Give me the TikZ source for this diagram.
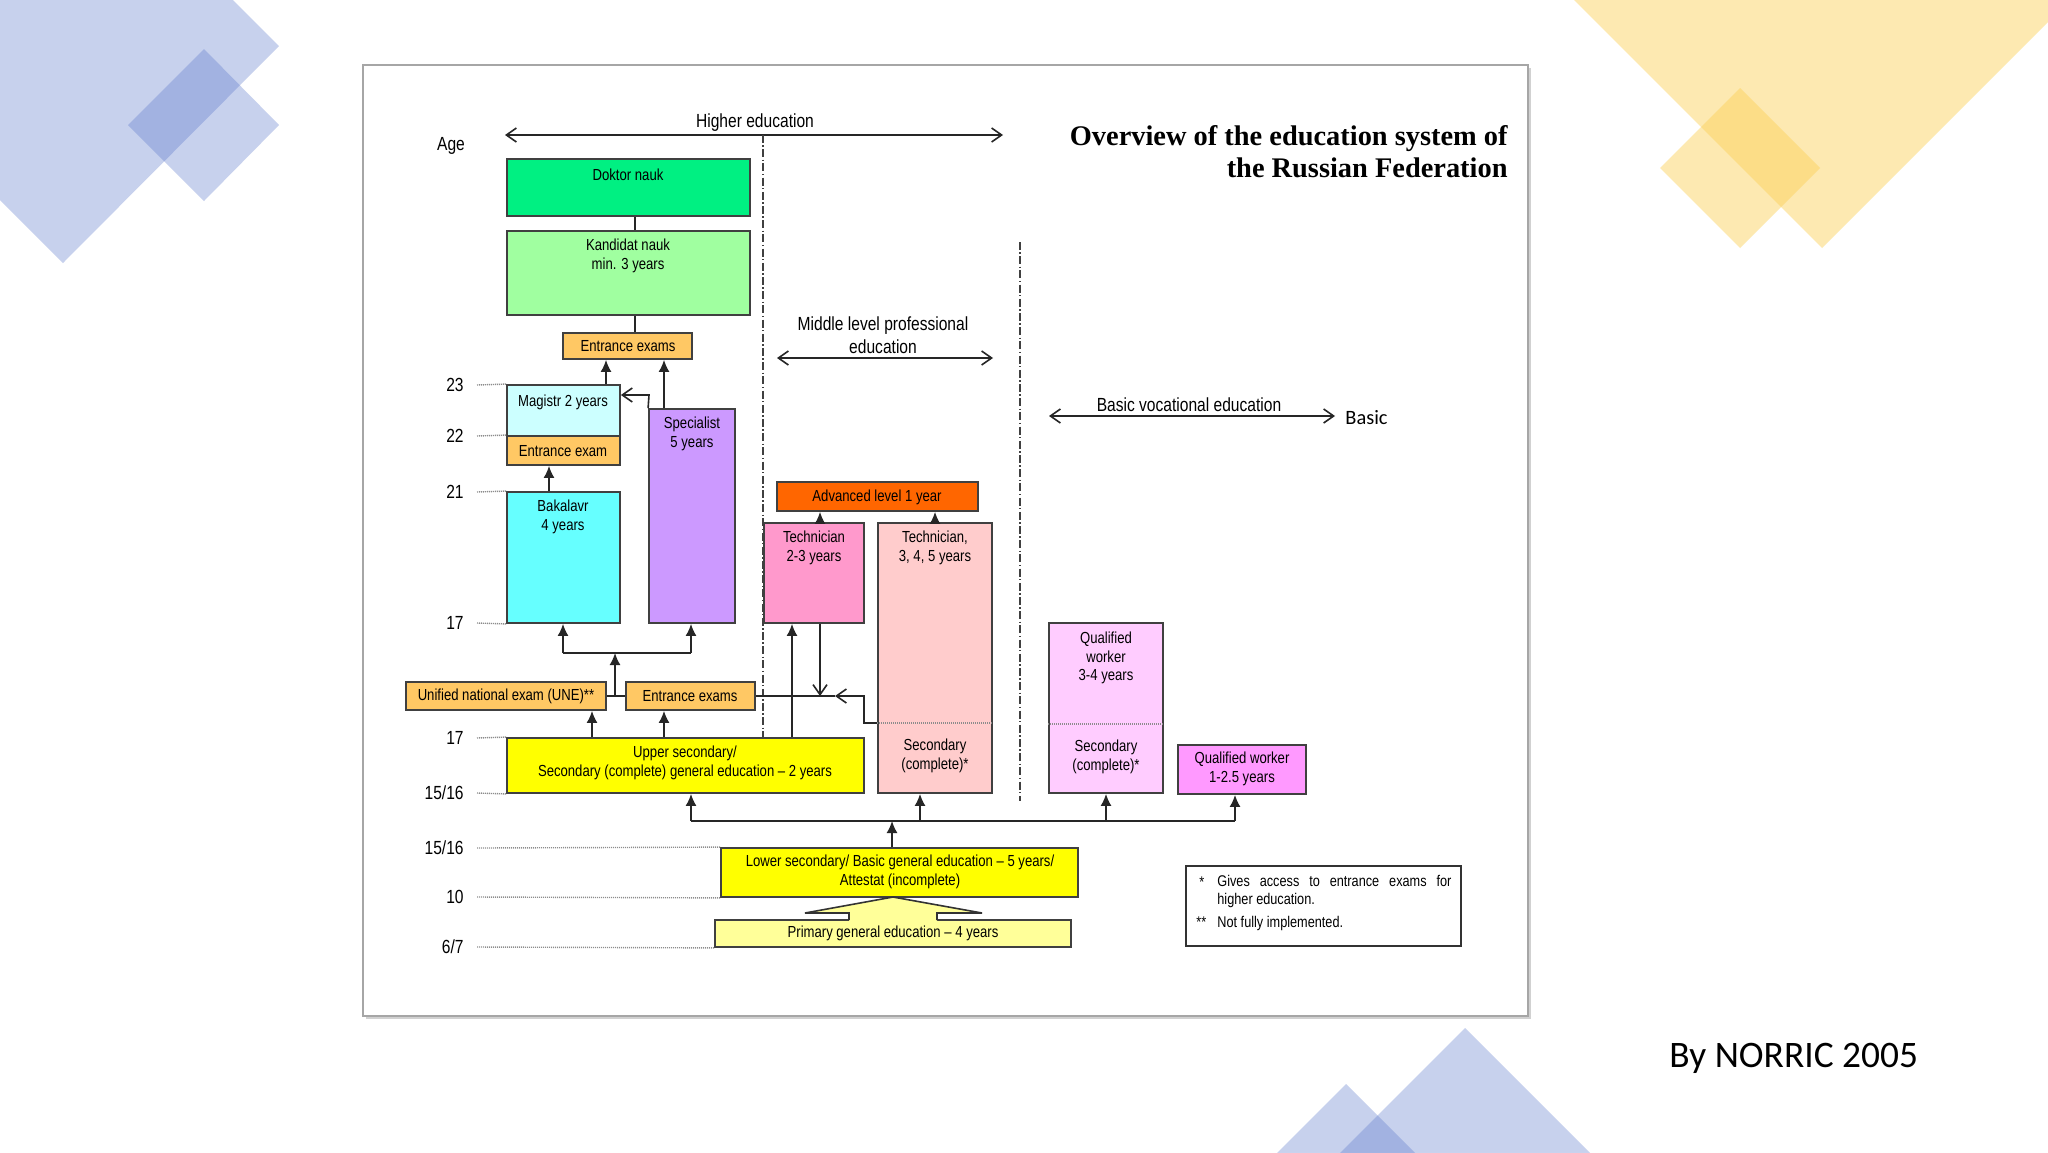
\documentclass[tikz,border=0pt]{standalone}
\usepackage{fontspec}
\setmainfont{Liberation Sans}
\newfontfamily\nar[FakeStretch=0.82,Ligatures=TeX]{Liberation Sans}
\newfontfamily\ttl{Liberation Serif}
\newfontfamily\calfont{Carlito}
\usetikzlibrary{arrows.meta,fit}
\definecolor{cDok}{RGB}{0,240,130}
\definecolor{cKand}{RGB}{160,255,160}
\definecolor{cExam}{RGB}{255,200,100}
\definecolor{cMag}{RGB}{204,255,255}
\definecolor{cBak}{RGB}{102,255,255}
\definecolor{cSpec}{RGB}{204,153,255}
\definecolor{cAdv}{RGB}{255,102,0}
\definecolor{cTa}{RGB}{255,153,204}
\definecolor{cTb}{RGB}{255,204,204}
\definecolor{cQa}{RGB}{255,204,255}
\definecolor{cQb}{RGB}{255,153,255}
\definecolor{cYel}{RGB}{255,255,0}
\definecolor{cPri}{RGB}{255,255,153}
\definecolor{decoBlue}{RGB}{87,117,203}
\definecolor{decoYel}{RGB}{251,208,84}
\begin{document}
\begin{tikzpicture}[x=0.5pt,y=-0.5pt,
  box/.style={draw=black!75, line width=0.9pt, inner sep=0pt, fill=#1},
  txt/.style={font=\nar\fontsize{8}{9.2}\selectfont, align=center, inner sep=0pt},
  head/.style={font=\nar\fontsize{9.5}{11.5}\selectfont, align=center, inner sep=0pt},
  agel/.style={font=\nar\fontsize{9.5}{11}\selectfont, anchor=east, inner sep=0pt},
  foot/.style={font=\nar\fontsize{7.75}{9}\selectfont, inner sep=0pt},
  conn/.style={line width=0.8pt, black!85},
  arr/.style={conn, -{Latex[length=6pt,width=5.5pt]}},
  oarr/.style={conn, -{Straight Barb[length=5pt,width=7pt]}},
  darr/.style={conn, {Straight Barb[length=5pt,width=7pt]}-{Straight Barb[length=5pt,width=7pt]}},
  tick/.style={black!45, line width=0.7pt, dash pattern=on 0.6pt off 0.4pt},
  dd/.style={black!75, line width=0.6pt, dash pattern=on 4pt off 1.2pt on 0.7pt off 1.2pt},
  deco/.style={fill=#1, fill opacity=0.33, draw=none}
]
\useasboundingbox (0,0) rectangle (2048,1152);
\fill[white] (0,0) rectangle (2048,1152);
% decorations
\begin{scope}
\clip (0,0) rectangle (2048,1152);
\fill[deco=decoBlue] (279,46) -- (63,263) -- (-237,-37) -- (-21,-254) -- cycle;
\fill[deco=decoBlue] (204,49) -- (279,125) -- (204,201) -- (128,125) -- cycle;
\fill[decoYel, fill opacity=0.45] (1822,248) -- (2222,-152) -- (1822,-552) -- (1422,-152) -- cycle;
\fill[decoYel, fill opacity=0.45] (1740,88) -- (1820,168) -- (1740,248) -- (1660,168) -- cycle;
\fill[deco=decoBlue] (1465,1028) -- (1625,1188) -- (1465,1348) -- (1305,1188) -- cycle;
\fill[deco=decoBlue] (1346,1084) -- (1446,1184) -- (1346,1284) -- (1246,1184) -- cycle;
\end{scope}
% panel
\fill[black!18] (366,68) rectangle (1531,1019);
\draw[fill=white, draw=black!35, line width=0.8pt] (363,65) rectangle (1528,1016);

% title
\node[font=\ttl\bfseries\fontsize{14.2}{16}\selectfont, align=right, anchor=east, inner sep=0pt] (title) at (1508,152) {Overview of the education system of\\the Russian Federation};

% headings
\node[head] (age) at (451,146) {Age};
\node[head] (hhigh) at (755,123) {Higher education};
\coordinate (hL) at (505,135); \coordinate (hR) at (1003,135);
\draw[darr] (hL) -- (hR);
\node[head] (hmid) at (883,335) {Middle level professional\\education};
\coordinate (mL) at (777,358); \coordinate (mR) at (993,358);
\draw[darr] (mL) -- (mR);
\node[head] (hbas) at (1189,405) {Basic vocational education};
\coordinate (bL) at (1049,416); \coordinate (bR) at (1335,416);
\draw[darr] (bL) -- (bR);
\node[font=\calfont\fontsize{10.2}{12}\selectfont, anchor=west, inner sep=0pt] (basic) at (1345,418) {Basic};

% dash-dot separators
\coordinate (d1t) at (763,135); \coordinate (d1b) at (763,738);
\draw[dd] (d1t) -- (d1b);
\coordinate (d2t) at (1020,242); \coordinate (d2b) at (1020,801);
\draw[dd] (d2t) -- (d2b);

% boxes
\node[box=cDok, fit={(507,159)(750,216)}] (dok) {};
\node[box=cKand, fit={(507,231)(750,315)}] (kand) {};
\node[box=cExam, fit={(563,333)(692,359)}] (ent1) {};
\node[box=cMag, fit={(507,385)(620,436)}] (mag) {};
\node[box=cExam, fit={(507,436)(620,465)}] (ex) {};
\node[box=cBak, fit={(507,492)(620,623)}] (bak) {};
\node[box=cSpec, fit={(649,409)(735,623)}] (spec) {};
\node[box=cAdv, fit={(777,482)(978,511)}] (adv) {};
\node[box=cTa, fit={(764,523)(864,623)}] (ta) {};
\node[box=cTb, fit={(878,523)(992,793)}] (tb) {};
\node[box=cQa, fit={(1049,623)(1163,793)}] (qa) {};
\node[box=cQb, fit={(1178,745)(1306,794)}] (qb) {};
\node[box=cExam, fit={(406,682)(606,710)}] (une) {};
\node[box=cExam, fit={(626,682)(755,710)}] (ent2) {};
\node[box=cYel, fit={(507,738)(864,793)}] (up) {};
\node[box=cYel, fit={(721,848)(1078,897)}] (low) {};
\node[box=cPri, fit={(715,920)(1071,947)}] (pri) {};
\node[draw=black!80, line width=0.8pt, fill=white, inner sep=0pt, fit={(1186,866)(1461,946)}] (note) {};

% dividers inside boxes
\draw[tick] (tb.west |- 0,723) -- (tb.east |- 0,723);
\draw[tick] (qa.west |- 0,724) -- (qa.east |- 0,724);

% box texts
\node[txt] (tdok) at (628,175) {Doktor nauk};
\node[txt] (tkand) at (628,256) {Kandidat nauk\\min. 3 years};
\node[txt] (tent1) at (628,346) {Entrance exams};
\node[txt] (tmag) at (563,402) {Magistr 2 years};
\node[txt] (tex) at (563,451) {Entrance exam};
\node[txt] (tbak) at (563,517) {Bakalavr\\4 years};
\node[txt] (tspec) at (692,434) {Specialist\\5 years};
\node[txt] (tadv) at (877,497) {Advanced level 1 year};
\node[txt] (tta) at (814,548) {Technician\\2-3 years};
\node[txt] (ttb) at (935,548) {Technician,\\3, 4, 5 years};
\node[txt] (ttbs) at (935,756) {Secondary\\(complete)*};
\node[txt] (tqa) at (1106,658) {Qualified\\worker\\3-4 years};
\node[txt] (tqas) at (1106,757) {Secondary\\(complete)*};
\node[txt] (tqb) at (1242,769) {Qualified worker\\1-2.5 years};
\node[txt] (tune) at (506,696) {Unified national exam (UNE)**};
\node[txt] (tent2) at (690,696) {Entrance exams};
\node[txt] (tup) at (685,763) {Upper secondary/\\Secondary (complete) general education – 2 years};
\node[txt] (tlow) at (900,872) {Lower secondary/ Basic general education – 5 years/\\Attestat (incomplete)};
\node[txt] (tpri) at (893,933) {Primary general education – 4 years};

% footnote
\node[foot, anchor=west] (fs1) at (1199,882) {*};
\node[foot, anchor=west, align=left] (ft1) at (1217,891) {\makebox[117pt][s]{Gives access to entrance exams for}\\higher education.};
\node[foot, anchor=west] (fs2) at (1196,922) {**};
\node[foot, anchor=west] (ft2) at (1217,923) {Not fully implemented.};

% age labels and ticks
\node[agel] (a23) at (464,385) {23};
\node[agel] (a22) at (464,436) {22};
\node[agel] (a21) at (464,492) {21};
\node[agel] (a17a) at (464,623) {17};
\node[agel] (a17b) at (464,738) {17};
\node[agel] (a15a) at (464,793) {15/16};
\node[agel] (a15b) at (464,848) {15/16};
\node[agel] (a10) at (464,897) {10};
\node[agel] (a6) at (464,947) {6/7};
\draw[tick] ([xshift=6.5pt]a23.east) -- (mag.north west);
\draw[tick] ([xshift=6.5pt]a22.east) -- (ex.north west);
\draw[tick] ([xshift=6.5pt]a21.east) -- (bak.north west);
\draw[tick] ([xshift=6.5pt]a17a.east) -- (bak.south west);
\draw[tick] ([xshift=6.5pt]a17b.east) -- (up.north west);
\draw[tick] ([xshift=6.5pt]a15a.east) -- (up.south west);
\draw[tick] ([xshift=6.5pt]a15b.east) -- (low.north west);
\draw[tick] ([xshift=6.5pt]a10.east) -- (low.south west);
\draw[tick] ([xshift=6.5pt]a6.east) -- (pri.south west);

% connectors: higher education
\draw[conn] (635,0 |- dok.south) -- (635,0 |- kand.north);
\draw[conn] (635,0 |- kand.south) -- (635,0 |- ent1.north);
\draw[arr] (606,0 |- mag.north) -- (606,0 |- ent1.south);
\draw[arr] (664,0 |- spec.north) -- (664,0 |- ent1.south);
\draw[oarr] (spec.north west) -- (649,395) -- (mag.east |- 0,395);
\draw[arr] (549,0 |- bak.north) -- (549,0 |- ex.south);
\draw[conn] (une.east) -- (ent2.west);
\coordinate (j1) at (615,653);
\coordinate (jl) at (563,653);
\coordinate (jr) at (691,653);
\draw[arr] (615,0 |- une.east) -- (j1);
\draw[conn] (jl) -- (jr);
\draw[arr] (jl) -- (563,0 |- bak.south);
\draw[arr] (jr) -- (691,0 |- spec.south);
\draw[arr] (592,0 |- up.north) -- (592,0 |- une.south);
\draw[arr] (664,0 |- up.north) -- (664,0 |- ent2.south);

% middle level
\draw[arr] (792,0 |- up.north) -- (792,0 |- ta.south);
\coordinate (m1) at (820,696);
\draw[oarr] (820,0 |- ta.south) -- (m1);
\coordinate (m2) at (835,696);
\draw[oarr] (tb.west |- 0,723) -- (864,723) -- (864,696) -- (m2);
\draw[conn] (m2) -- (ent2.east);
\draw[arr] (820,0 |- ta.north) -- (820,0 |- adv.south);
\draw[arr] (935,0 |- tb.north) -- (935,0 |- adv.south);

% lower distribution
\coordinate (dc) at (892,821);
\coordinate (dl) at (691,821);
\coordinate (dr) at (1235,821);
\draw[arr] (892,0 |- low.north) -- (dc);
\draw[conn] (dl) -- (dr);
\draw[arr] (dl) -- (691,0 |- up.south);
\draw[arr] (920,821) -- (920,0 |- tb.south);
\draw[arr] (1106,821) -- (1106,0 |- qa.south);
\draw[arr] (dr) -- (1235,0 |- qb.south);

% fat arrow primary -> lower
\fill[cPri] (849,921) -- (849,913) -- (805,913) -- (893,897) -- (982,913) -- (937,913) -- (937,921) -- cycle;
\draw[black!80, line width=0.8pt, line join=miter] (849,920) -- (849,913) -- (805,913) -- (893,897) -- (982,913) -- (937,913) -- (937,920);

% credit
\node[font=\calfont\fontsize{18.7}{22}\selectfont, anchor=west, inner sep=0pt] (credit) at (1669,1058) {By NORRIC 2005};
\end{tikzpicture}
\end{document}
